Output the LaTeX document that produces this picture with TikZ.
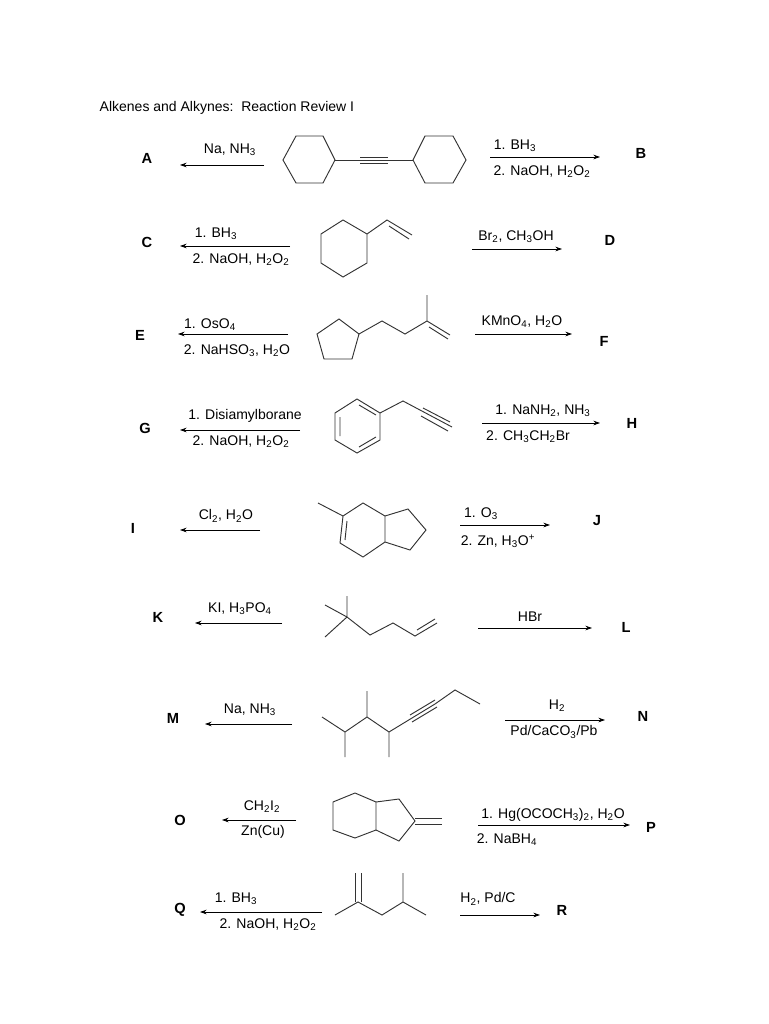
\documentclass[tikz,border=0pt]{standalone}
\usepackage{fontspec}
\setmainfont{Liberation Sans}
\usetikzlibrary{arrows.meta}
\newcommand{\chs}[1]{\textsubscript{#1}}
\begin{document}
\begin{tikzpicture}[x=0.75pt,y=-0.75pt,
  bond/.style={line width=0.7pt,gray!40!black},
  rxn/.style={line width=0.6pt,-{Stealth[length=5pt,width=3.5pt]}},
  lab/.style={font=\fontsize{10.5}{12}\selectfont},
  letter/.style={font=\bfseries\fontsize{11}{12}\selectfont}]
\useasboundingbox (0,0) rectangle (768,1024);
\node[lab,anchor=west] (title) at (95,108) {Alkenes and Alkynes:\ \ Reaction Review I};
\foreach \n/\x/\y in {A/147/158,B/641/153,C/147/242,D/610/240,E/140/335,F/604/341,G/145/428,H/632/423,I/133/528,J/597/521,K/158/617,L/626/627,M/173/718,N/643/716,O/180/820,P/651/827,Q/180/910,R/562/910}
  \node[letter] (l\n) at (\x,\y) {\n};
\foreach \a/\b/\y/\nm in {264/180/165/a1,490/600/157/a2,290/180/246/a3,472/562/249/a4,288/178/334/a5,475/572/334/a6,300/180/430/a7,482/600/423/a8,260/180/530/a9,460/550/525/a10,282/195/623/a11,478/592/628/a12,292/205/724/a13,505/605/720/a14,296/222/820/a15,478/630/825/a16,322/200/912/a17,460/540/915/a18}
  {\coordinate (\nm s) at (\a,\y); \coordinate (\nm e) at (\b,\y); \draw[rxn] (\nm s) -- (\nm e);}
\node[lab] (t1) at (230,150) {Na, NH\chs{3}};
\node[lab] (t2) at (515,146) {1. BH\chs{3}};
\node[lab] (t3) at (542,172) {2. NaOH, H\chs{2}O\chs{2}};
\node[lab] (t4) at (216,234) {1. BH\chs{3}};
\node[lab] (t5) at (241,260) {2. NaOH, H\chs{2}O\chs{2}};
\node[lab] (t6) at (516,237) {Br\chs{2}, CH\chs{3}OH};
\node[lab] (t7) at (210,325) {1. OsO\chs{4}};
\node[lab] (t8) at (237,351) {2. NaHSO\chs{3}, H\chs{2}O};
\node[lab] (t9) at (522,322) {KMnO\chs{4}, H\chs{2}O};
\node[lab] (t10) at (245,416) {1. Disiamylborane};
\node[lab] (t11) at (241,442) {2. NaOH, H\chs{2}O\chs{2}};
\node[lab] (t12) at (543,411) {1. NaNH\chs{2}, NH\chs{3}};
\node[lab] (t13) at (528,437) {2. CH\chs{3}CH\chs{2}Br};
\node[lab] (t14) at (226,516) {Cl\chs{2}, H\chs{2}O};
\node[lab] (t15) at (481,514) {1. O\chs{3}};
\node[lab] (t16) at (498,541) {2. Zn, H\chs{3}O\textsuperscript{+}};
\node[lab] (t17) at (240,609) {KI, H\chs{3}PO\chs{4}};
\node[lab] (t18) at (530,617) {HBr};
\node[lab] (t19) at (250,710) {Na, NH\chs{3}};
\node[lab] (t20) at (557,706) {H\chs{2}};
\node[lab] (t21) at (554,732) {Pd/CaCO\chs{3}/Pb};
\node[lab] (t22) at (262,807) {CH\chs{2}I\chs{2}};
\node[lab] (t23) at (263,832) {Zn(Cu)};
\node[lab] (t24) at (553,815) {1. Hg(OCOCH\chs{3})\chs{2}, H\chs{2}O};
\node[lab] (t25) at (507,840) {2. NaBH\chs{4}};
\node[lab] (t26) at (236,899) {1. BH\chs{3}};
\node[lab] (t27) at (268,925) {2. NaOH, H\chs{2}O\chs{2}};
\node[lab] (t28) at (488,899) {H\chs{2}, Pd/C};
\draw[bond] (283,160)--(296,136)--(323,136)--(335,160)--(323,183)--(296,183)--cycle;
\draw[bond] (413,160)--(425,136)--(453,136)--(466,160)--(453,183)--(425,183)--cycle;
\draw[bond] (335,160)--(413,160);
\draw[bond] (360,157)--(388,157) (360,163)--(388,163);
\draw[bond] (343,220)--(367,234)--(367,263)--(343,277)--(321,263)--(321,234)--cycle;
\draw[bond] (367,234)--(387,220)--(412,235);
\draw[bond] (389,226)--(409,239);
\draw[bond] (339,319)--(359,334)--(352,359)--(324,359)--(317,334)--cycle;
\draw[bond] (359,334)--(382,321)--(405,334)--(427,321)--(427,295);
\draw[bond] (427,321)--(450,335) (429,327)--(448,339);
\draw[bond] (357,399)--(380,413)--(380,440)--(357,453)--(335,440)--(335,413)--cycle;
\draw[bond] (340,417)--(340,436) (359,405)--(376,415) (359,447)--(376,437);
\draw[bond] (380,413)--(403,401)--(452,427);
\draw[bond] (423,408)--(450,422) (421,416)--(448,431);
\draw[bond] (318,503)--(343,516);
\draw[bond] (343,516)--(363,503)--(385,516)--(385,542)--(363,557)--(340,543)--cycle;
\draw[bond] (347,521)--(345,540);
\draw[bond] (385,516)--(408,509)--(426,530)--(410,550)--(385,542);
\draw[bond] (347,596)--(347,617) (325,605)--(347,617) (325,637)--(347,617);
\draw[bond] (347,617)--(370,635)--(393,623)--(415,636)--(437,623);
\draw[bond] (417,630)--(435,619);
\draw[bond] (322,717)--(345,732)--(345,757) (345,732)--(367,717)--(367,691) (367,717)--(389,732)--(389,757);
\draw[bond] (389,732)--(435,704)--(455,690)--(480,704);
\draw[bond] (410,715)--(435,700) (412,722)--(437,707);
\draw[bond] (355,793)--(376,802)--(376,830)--(355,838)--(333,830)--(333,802)--cycle;
\draw[bond] (376,802)--(399,799)--(415,821)--(399,841)--(376,830);
\draw[bond] (415,818)--(442,818) (415,824)--(442,824);
\draw[bond] (335,915)--(358,902)--(382,915)--(403,902)--(426,915) (403,902)--(403,873);
\draw[bond] (355,902)--(355,873) (361,902)--(361,873);
\end{tikzpicture}
\end{document}
